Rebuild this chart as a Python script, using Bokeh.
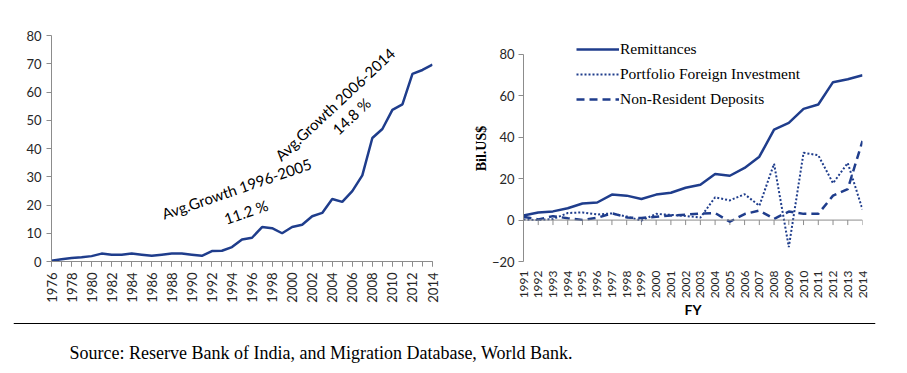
from math import pi
from bokeh.plotting import figure
from bokeh.models import (Range1d, FixedTicker, Legend, LegendItem, Label, Span,
                          ColumnDataSource)
from bokeh.layouts import row, column
from bokeh.embed import file_html
from bokeh.resources import INLINE

# ---------------- data ----------------
years_long = list(range(1976, 2015))
remit_long = [0.3, 0.8, 1.2, 1.5, 1.9, 2.8, 2.4, 2.4, 2.8, 2.4,
              2.0, 2.4, 2.8, 2.8, 2.4, 2.0, 3.7, 3.8, 5.1, 7.8,
              8.4, 12.2, 11.8, 10.0, 12.2, 13.0, 16.0, 17.2, 22.1, 21.1,
              24.9, 30.5, 43.7, 46.9, 53.7, 55.6, 66.4, 67.8, 69.7]
left_xticks = list(range(1976, 2015, 2))
left_yticks = list(range(0, 90, 10))

years_fy = list(range(1991, 2015))
remit_fy = [2.2, 3.7, 4.2, 5.7, 8.0, 8.5, 12.3, 11.8, 10.2, 12.3, 13.2, 15.6,
            17.1, 22.2, 21.4, 25.2, 30.6, 43.7, 46.9, 53.7, 55.8, 66.6, 68.0, 69.9]
portfolio = [0.3, 0.0, 0.5, 3.4, 3.7, 2.7, 3.2, 1.7, -0.2, 3.0, 2.5, 2.0,
             1.2, 11.0, 9.5, 12.5, 6.9, 27.2, -13.0, 32.5, 31.3, 17.8, 27.6, 5.1]
nrd = [1.6, 0.3, 1.9, 0.9, 0.1, 1.1, 3.3, 1.3, 1.0, 1.6, 2.2, 2.6,
       3.2, 3.4, -0.8, 2.9, 4.6, 0.6, 4.1, 3.0, 3.0, 11.8, 15.0, 38.2]
right_yticks = [-20, 0, 20, 40, 60, 80]
series_names = ["Remittances", "Portfolio Foreign Investment", "Non-Resident Deposits"]

NAVY = "#1f3d8c"
GRAY = "#8c8c8c"
TXT = "#262626"
SANS = "Lato"
SERIF = "Liberation Serif"

FIG_H = 321
TOP = 35
BOTTOM = FIG_H - 262

# ---------------- left chart ----------------
p1 = figure(width=470, height=FIG_H, x_range=Range1d(1976, 2014), y_range=Range1d(0, 80),
            output_backend="svg", toolbar_location=None,
            min_border_left=51, min_border_right=38, min_border_top=TOP, min_border_bottom=BOTTOM)
p1.outline_line_color = None
p1.grid.visible = False
p1.background_fill_color = None
p1.border_fill_color = None
p1.line(years_long, remit_long, line_color=NAVY, line_width=2.5)

xa = p1.xaxis[0]
xa.ticker = FixedTicker(ticks=left_xticks, minor_ticks=years_long)
xa.major_label_orientation = pi / 2
xa.axis_line_color = GRAY
xa.major_tick_line_color = GRAY
xa.minor_tick_line_color = GRAY
xa.major_tick_in = 0
xa.major_tick_out = 5
xa.minor_tick_in = 0
xa.minor_tick_out = 5
xa.major_label_standoff = 6
xa.major_label_text_font = SANS
xa.major_label_text_font_size = "13px"
xa.major_label_text_color = TXT

ya = p1.yaxis[0]
ya.ticker = FixedTicker(ticks=left_yticks)
ya.axis_line_color = GRAY
ya.major_tick_line_color = GRAY
ya.minor_tick_line_color = None
ya.major_tick_in = 0
ya.major_tick_out = 5
ya.major_label_standoff = 5
ya.major_label_text_font = SANS
ya.major_label_text_font_size = "13px"
ya.major_label_text_color = TXT

ann_style = dict(text_font=SANS, text_font_size="15px", text_color="black",
                 text_align="center", text_baseline="middle")
p1.add_layout(Label(x=1994.45, y=25.8, text="Avg.Growth 1996-2005", angle=19 * pi / 180, **ann_style))
p1.add_layout(Label(x=1995.4, y=17.6, text="11.2 %", angle=19 * pi / 180, **ann_style))
p1.add_layout(Label(x=2004.4, y=56.2, text="Avg.Growth  2006-2014", angle=43 * pi / 180, **ann_style))
p1.add_layout(Label(x=2005.9, y=51.5, text="14.8 %", angle=43 * pi / 180, **ann_style))

# ---------------- right chart ----------------
p2 = figure(width=430, height=FIG_H, x_range=Range1d(1991, 2014), y_range=Range1d(-20, 89.13),
            output_backend="svg", toolbar_location=None,
            min_border_left=49, min_border_right=38, min_border_top=TOP, min_border_bottom=BOTTOM)
p2.outline_line_color = None
p2.grid.visible = False
p2.background_fill_color = None
p2.border_fill_color = None

p2.add_layout(Span(location=0, dimension="width", line_color=GRAY, line_width=1))
tick_src = ColumnDataSource(dict(x=years_fy, y0=[0] * len(years_fy), y1=[-2.4] * len(years_fy)))
p2.segment(x0="x", y0="y0", x1="x", y1="y1", source=tick_src, line_color=GRAY, line_width=1)

r1 = p2.line(years_fy, remit_fy, line_color=NAVY, line_width=2.5)
r2 = p2.line(years_fy, portfolio, line_color=NAVY, line_width=2, line_dash="2 2")
r3 = p2.line(years_fy, nrd, line_color=NAVY, line_width=2.5, line_dash="8 5")

xb = p2.xaxis[0]
xb.ticker = FixedTicker(ticks=years_fy)
xb.axis_line_color = None
xb.major_tick_line_color = None
xb.minor_tick_line_color = None
xb.major_tick_out = 0
xb.major_tick_in = 0
xb.minor_tick_out = 0
xb.minor_tick_in = 0
xb.major_label_orientation = pi / 2
xb.major_label_standoff = 9
xb.major_label_text_font = SANS
xb.major_label_text_font_size = "12px"
xb.major_label_text_color = TXT
xb.axis_label = "FY"
xb.axis_label_standoff = 0
xb.axis_label_text_font = SANS
xb.axis_label_text_font_style = "bold"
xb.axis_label_text_font_size = "14px"
xb.axis_label_text_color = "black"

yb = p2.yaxis[0]
yb.ticker = FixedTicker(ticks=right_yticks)
yb.bounds = (right_yticks[0], right_yticks[-1])
yb.axis_line_color = GRAY
yb.major_tick_line_color = GRAY
yb.minor_tick_line_color = None
yb.major_tick_in = 0
yb.major_tick_out = 5
yb.major_label_standoff = 4
yb.major_label_text_font = SANS
yb.major_label_text_font_size = "13px"
yb.major_label_text_color = TXT
yb.axis_label = "Bil.US$"
yb.axis_label_standoff = 0
yb.axis_label_text_font = SERIF
yb.axis_label_text_font_style = "bold"
yb.axis_label_text_font_size = "14px"
yb.axis_label_text_color = "black"

legend = Legend(items=[LegendItem(label=series_names[0], renderers=[r1]),
                       LegendItem(label=series_names[1], renderers=[r2]),
                       LegendItem(label=series_names[2], renderers=[r3])],
                location=(53, 152), orientation="vertical",
                glyph_width=43, glyph_height=20, label_height=20, spacing=5,
                padding=0, margin=0, label_standoff=1,
                label_text_font=SERIF, label_text_font_size="15.5px", label_text_color="black",
                border_line_color=None, background_fill_alpha=0)
p2.add_layout(legend)

# ---------------- source line ----------------
p3 = figure(width=900, height=45, x_range=Range1d(0, 862), y_range=Range1d(45, 0),
            output_backend="svg", toolbar_location=None,
            min_border_left=13, min_border_right=25, min_border_top=0, min_border_bottom=0)
p3.axis.visible = False
p3.grid.visible = False
p3.outline_line_color = None
p3.background_fill_color = None
p3.border_fill_color = None
p3.add_layout(Span(location=2, dimension="width", line_color="black", line_width=1))
p3.add_layout(Label(x=56, y=31, text="Source: Reserve Bank of India, and Migration Database, World Bank.",
                    text_font=SERIF, text_font_size="18px", text_color="black",
                    text_align="left", text_baseline="middle"))

layout = column(row(p1, p2), p3)
open("out.html", "w").write(file_html(layout, INLINE))
